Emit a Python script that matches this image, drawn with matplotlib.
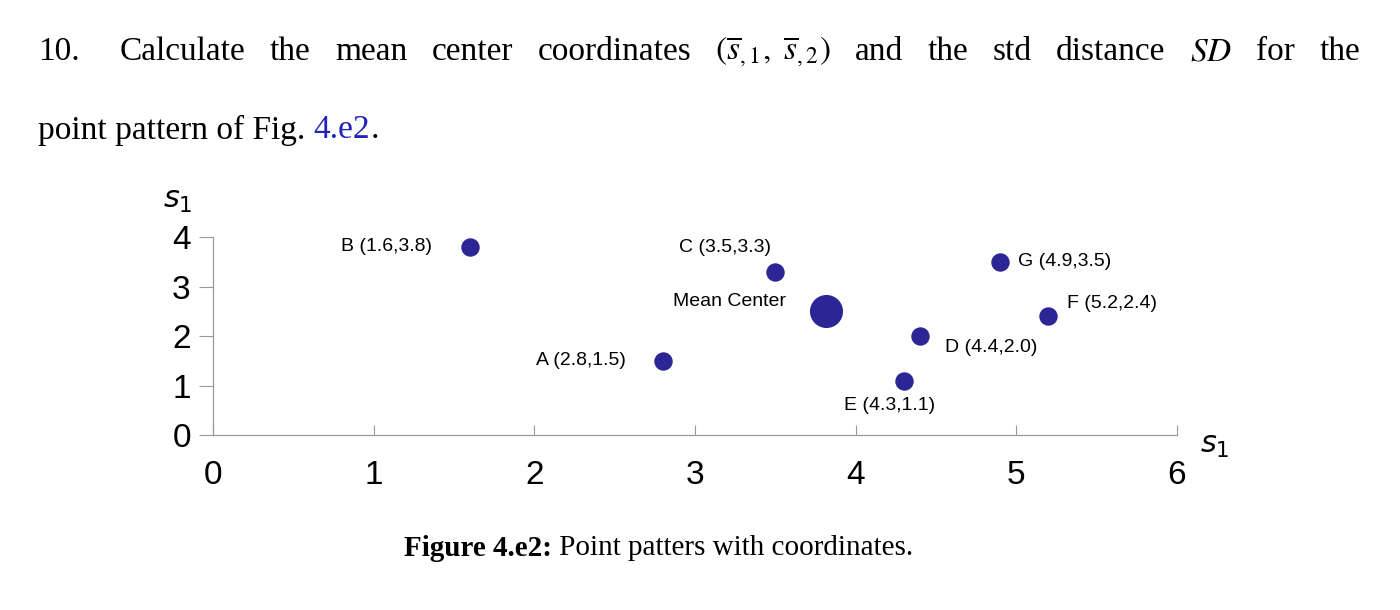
import matplotlib.pyplot as plt

# point pattern data
names = ['A', 'B', 'C', 'D', 'E', 'F', 'G']
xs = [2.8, 1.6, 3.5, 4.4, 4.3, 5.2, 4.9]
ys = [1.5, 3.8, 3.3, 2.0, 1.1, 2.4, 3.5]
# label offsets in pixels (dx, dy, ha)
offsets = {'A': (-37, 0, 'right'), 'B': (-38, 0, 'right'), 'C': (-50, 24, 'center'),
           'D': (25, -12, 'left'), 'E': (-14, -25, 'center'), 'F': (19, 13, 'left'),
           'G': (18, 0, 'left')}
mean_x = sum(xs) / len(xs)
mean_y = sum(ys) / len(ys)

col = '#2B2596'
fig = plt.figure(figsize=(14, 6.1), dpi=100)
ax = fig.add_axes([213 / 1400, 1 - 435 / 610, (1177 - 213) / 1400, (435 - 237) / 610])

ax.scatter(xs, ys, s=150, color=col, zorder=3, clip_on=False)
ax.scatter([mean_x], [mean_y], s=520, color=col, zorder=3, clip_on=False)
for n, x, y in zip(names, xs, ys):
    dx, dy, ha = offsets[n]
    ax.annotate(f'{n} ({x},{y})', (x, y), xytext=(dx, dy), textcoords='offset pixels',
                ha=ha, va='center', fontsize=14, family='Liberation Sans')
ax.annotate('Mean Center', (mean_x, mean_y), xytext=(-40, 9), textcoords='offset pixels',
            ha='right', va='center', fontsize=14, family='Liberation Sans')

ax.set_xlim(0, 6)
ax.set_ylim(0, 4)
ax.set_xticks(range(7))
ax.set_yticks(range(5))
for s in ['top', 'right']:
    ax.spines[s].set_visible(False)
for s in ['left', 'bottom']:
    ax.spines[s].set_color('#999999')
    ax.spines[s].set_linewidth(0.9)
ax.tick_params(axis='x', direction='in', length=7, color='#999999', pad=18, labelsize=24)
ax.tick_params(axis='y', direction='out', length=10, color='#999999', pad=6, labelsize=24)
for lab in ax.get_xticklabels() + ax.get_yticklabels():
    lab.set_family('Liberation Sans')

fig.text(178 / 1400, 1 - 200 / 610, r'$s_1$', fontsize=22, ha='center', va='center',
         family='Liberation Sans')
fig.text(1215 / 1400, 1 - 445 / 610, r'$s_1$', fontsize=22, ha='center', va='center',
         family='Liberation Sans')
plt.rcParams['mathtext.fontset'] = 'stix'

# heading text, justified by hand
serif = 'Liberation Serif'
fig.text(38 / 1400, 1 - 52 / 610, '10.', fontsize=24, family=serif, va='center')
words = ['Calculate', 'the', 'mean', 'center', 'coordinates',
         r'$(\overline{s}_{,1},\ \overline{s}_{,2})$', 'and', 'the', 'std', 'distance',
         r'$\mathit{SD}$', 'for', 'the']
fig.canvas.draw()
r = fig.canvas.get_renderer()
objs = [fig.text(0, 1 - 52 / 610, w, fontsize=24, family=serif, va='center') for w in words]
widths = [o.get_window_extent(r).width for o in objs]
gap = (1360 - 120 - sum(widths)) / (len(words) - 1)
pos = 120
for o, w in zip(objs, widths):
    o.set_x(pos / 1400)
    pos += w + gap

t1 = fig.text(38 / 1400, 1 - 130 / 610, 'point pattern of Fig. ', fontsize=24, family=serif, va='center')
w1 = t1.get_window_extent(r).width
fig.text((38 + w1) / 1400, 1 - 130 / 610, '4.e2', fontsize=24, family=serif, va='center', color='#2222BB')
t2 = fig.text(0, 1 - 130 / 610, '4.e2', fontsize=24, family=serif, va='center')
w2 = t2.get_window_extent(r).width
t2.set_text('.')
t2.set_x((38 + w1 + w2) / 1400)

# caption
c1 = fig.text(404 / 1400, 1 - 548 / 610, 'Figure 4.e2:', fontsize=21, family=serif,
              weight='bold', va='center')
wc = c1.get_window_extent(r).width
fig.text((404 + wc) / 1400, 1 - 548 / 610, ' Point patters with coordinates.', fontsize=21,
         family=serif, va='center')

fig.savefig('out.png', dpi=100)
